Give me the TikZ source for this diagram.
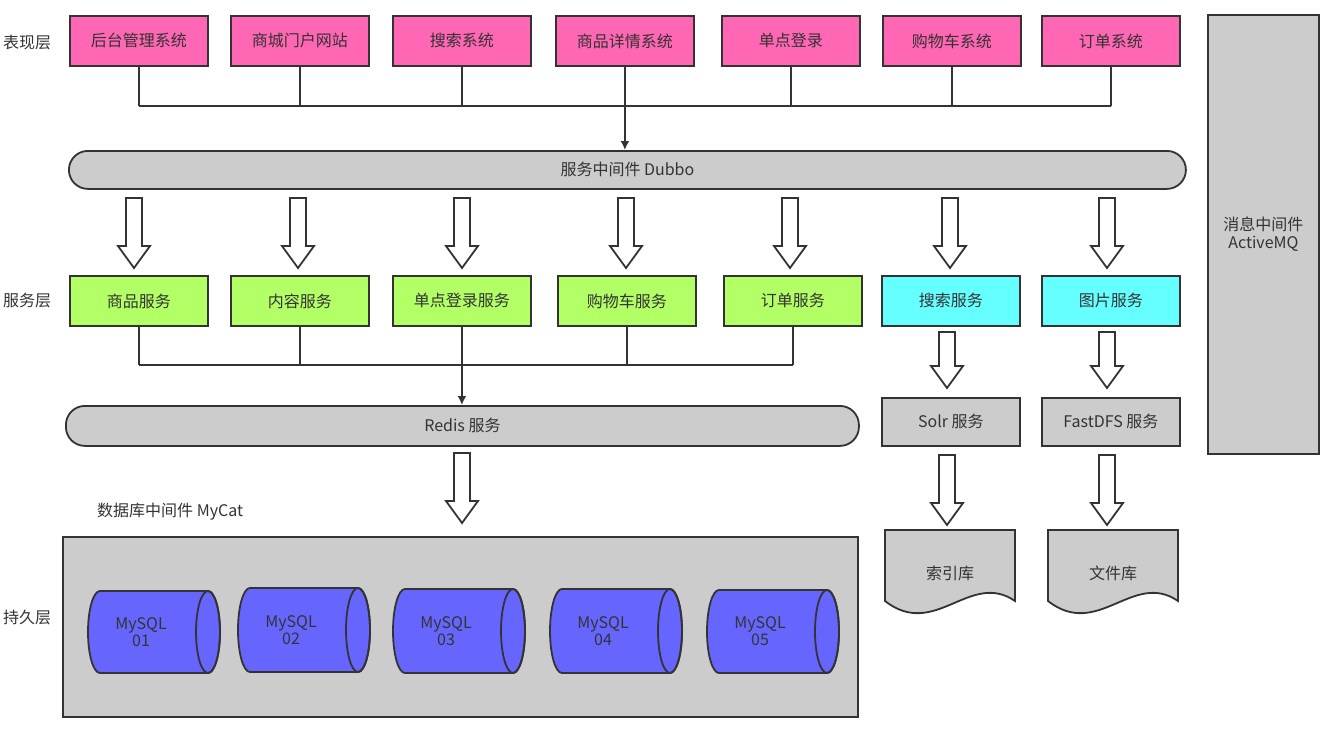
\documentclass[tikz,border=0pt]{standalone}
\usepackage{fontspec}
\setmainfont{Noto Sans CJK SC}
\usetikzlibrary{arrows.meta}
\definecolor{pinkc}{HTML}{FF66B3}
\definecolor{greenc}{HTML}{B3FF66}
\definecolor{cyanc}{HTML}{66FFFF}
\definecolor{bluec}{HTML}{6666FF}
\definecolor{grayc}{HTML}{CCCCCC}
\definecolor{linec}{HTML}{333333}
\newcommand{\harrow}[3]{% x, top, bottom
  \draw[line width=1.8pt, draw=linec, fill=white, line join=miter]
    (#1-8,#2) -- (#1+8,#2) -- (#1+8,#3-22) -- (#1+16,#3-22) -- (#1,#3)
    -- (#1-16,#3-22) -- (#1-8,#3-22) -- cycle;}
\newcommand{\cyl}[5]{% left, right, top, bottom, label
  \draw[line width=1.8pt, draw=linec, fill=bluec]
    (#1+12,#3) arc[start angle=90, end angle=270, x radius=12pt, y radius={(#4-#3)/2*1pt}]
    -- (#2-12,#4) arc[start angle=-90, end angle=90, x radius=12pt, y radius={(#4-#3)/2*1pt}] -- cycle;
  \draw[line width=1.8pt, draw=linec] (#2-12,{(#3+#4)/2}) ellipse[x radius=12pt, y radius={(#4-#3)/2*1pt}];
  \node[txt, align=center, font=\fontsize{16}{17}\selectfont] at ({(#1+#2)/2-13},{(#3+#4)/2}) {#5};}
\begin{document}
\begin{tikzpicture}[x=1pt, y=-1pt,
  txt/.style={text=linec, font=\fontsize{16}{18}\selectfont, inner sep=0pt},
  box/.style={draw=linec, line width=1.8pt, txt, minimum width=138pt, minimum height=50pt, anchor=north west},
  bar/.style={draw=linec, line width=1.8pt, fill=grayc, rounded corners=19pt, txt},
  ln/.style={draw=linec, line width=1.5pt},
  arr/.style={draw=linec, line width=2.6pt, -{Latex[length=9pt,width=9pt]}}]
\useasboundingbox (0,0) rectangle (1325,731);
% left labels
\node[txt, anchor=west] (l1) at (3,42) {表现层};
\node[txt, anchor=west] (l2) at (3,300) {服务层};
\node[txt, anchor=west] (l3) at (3,617) {持久层};
% top row
\foreach \n/\x/\t in {p1/69/后台管理系统, p2/230/商城门户网站, p3/392/搜索系统, p4/555/商品详情系统, p5/721/单点登录, p6/882/购物车系统, p7/1041/订单系统}
  \node[box, fill=pinkc] (\n) at (\x,15) {\t};
\foreach \n in {p1,p2,p3,p4,p5,p6,p7}
  \draw[ln] (\n.south) -- (\n.south |- 0,106);
\draw[ln] (p1.south |- 0,106) -- (p7.south |- 0,106);
% dubbo
\node[bar, minimum width=1117pt, minimum height=38pt, anchor=north west] (dubbo) at (68,150) {服务中间件 Dubbo};
\draw[arr] (p4.south |- 0,106) -- (p4.south |- dubbo.north);
% hollow arrows dubbo -> services
\foreach \x in {134,298,462,626,790,950,1107} \harrow{\x}{198}{268}
% services
\foreach \n/\x/\t in {s1/69/商品服务, s2/230/内容服务, s3/392/单点登录服务, s4/557/购物车服务, s5/723/订单服务}
  \node[box, fill=greenc] (\n) at (\x,275) {\t};
\node[box, fill=cyanc] (s6) at (881,275) {搜索服务};
\node[box, fill=cyanc] (s7) at (1041,275) {图片服务};
\foreach \n in {s1,s2,s3,s4,s5}
  \draw[ln] (\n.south) -- (\n.south |- 0,365);
\draw[ln] (s1.south |- 0,365) -- (s5.south |- 0,365);
% redis
\node[bar, minimum width=793pt, minimum height=40pt, anchor=north west] (redis) at (65,405) {Redis 服务};
\draw[arr] (s3.south |- 0,365) -- (s3.south |- redis.north);
\harrow{462}{453}{523}
% solr / fastdfs
\harrow{947}{332}{388}
\harrow{1107}{332}{388}
\node[box, fill=grayc, minimum height=48pt] (solr) at (881,397) {Solr 服务};
\node[box, fill=grayc, minimum height=48pt] (fdfs) at (1041,397) {FastDFS 服务};
\harrow{947}{455}{525}
\harrow{1107}{455}{525}
% documents
\foreach \n/\x/\t in {d1/885/索引库, d2/1048/文件库} {
  \draw[line width=1.8pt, draw=linec, fill=grayc]
    (\x,530) -- (\x+130,530) -- (\x+130,601)
    .. controls (\x+85,570) and (\x+50,640) .. (\x,601) -- cycle;
  \node[txt] (\n) at (\x+65,573) {\t};
}
% mycat
\node[txt, anchor=west] (mycat) at (97,512) {数据库中间件 MyCat};
\draw[line width=1.8pt, draw=linec, fill=grayc] (63,537) rectangle (858,717);
\cyl{88}{220}{591}{673}{MySQL\\01}
\cyl{238}{370}{588}{672}{MySQL\\02}
\cyl{393}{525}{589}{673}{MySQL\\03}
\cyl{550}{682}{589}{673}{MySQL\\04}
\cyl{707}{839}{590}{673}{MySQL\\05}
% activemq
\node[draw=linec, line width=1.8pt, fill=grayc, txt, align=center, minimum width=111pt, minimum height=439pt, anchor=north west] (mq) at (1207,14) {消息中间件\\ActiveMQ};
\end{tikzpicture}
\end{document}
